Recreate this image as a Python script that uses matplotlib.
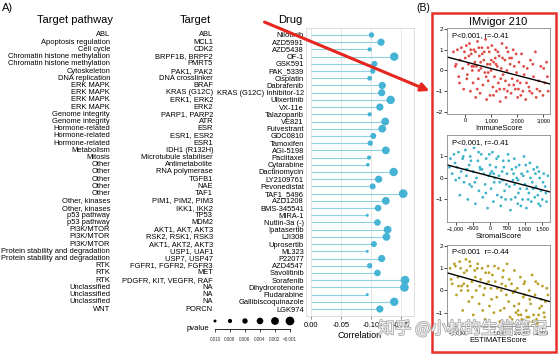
import numpy as np
import matplotlib
matplotlib.use("Agg")
import matplotlib.pyplot as plt
import matplotlib.patches as patches
import matplotlib.transforms as mtransforms
import matplotlib.patheffects as pe
from matplotlib.ticker import FuncFormatter

plt.rcParams['font.family'] = ['Liberation Sans', 'DejaVu Sans', 'Noto Sans CJK SC']

# ---- panel A data ----
pathways = ["ABL", "Apoptosis regulation", "Cell cycle", "Chromatin histone methylation",
            "Chromatin histone methylation", "Cytoskeleton", "DNA replication", "ERK MAPK",
            "ERK MAPK", "ERK MAPK", "ERK MAPK", "Genome integrity", "Genome integrity",
            "Hormone-related", "Hormone-related", "Hormone-related", "Metabolism", "Mitosis",
            "Other", "Other", "Other", "Other", "Other", "Other, kinases", "Other, kinases",
            "p53 pathway", "p53 pathway", "PI3K/MTOR", "PI3K/MTOR", "PI3K/MTOR",
            "Protein stability and degradation", "Protein stability and degradation",
            "RTK", "RTK", "RTK", "Unclassified", "Unclassified", "Unclassified", "WNT"]
targets = ["ABL", "MCL1", "CDK2", "BRPF1B, BRPF2", "PMRT5", "PAK1, PAK2", "DNA crosslinker",
           "BRAF", "KRAS (G12C)", "ERK1, ERK2", "ERK2", "PARP1, PARP2", "ATR", "ESR",
           "ESR1, ESR2", "ESR1", "IDH1 (R132H)", "Microtubule stabiliser", "Antimetabolite",
           "RNA polymerase", "TGFB1", "NAE", "TAF1", "PIM1, PIM2, PIM3", "IKK1, IKK2", "TP53",
           "MDM2", "AKT1, AKT, AKT3", "RSK2, RSK1, RSK3", "AKT1, AKT2, AKT3", "USP1, UAF1",
           "USP7, USP47", "FGFR1, FGFR2, FGFR3", "MET", "PDGFR, KIT, VEGFR, RAF", "NA", "NA",
           "NA", "PORCN"]
drugs = ["Nilotinib", "AZD5991", "AZD5438", "OF-1", "GSK591", "PAK_5339", "Cisplatin",
         "Dabrafenib", "KRAS (G12C) Inhibitor-12", "Ulixertinib", "VX-11e", "Talazoparib",
         "VE821", "Fulvestrant", "GDC0810", "Tamoxifen", "AGI-5198", "Paclitaxel", "Cytarabine",
         "Dactinomycin", "LY2109761", "Pevonedistat", "TAF1_5496", "AZD1208", "BMS-345541",
         "MIRA-1", "Nutlin-3a (-)", "Ipatasertib", "LJI308", "Uprosertib", "ML323", "P22077",
         "AZD4547", "Savolitinib", "Sorafenib", "Dihydrorotenone", "Fludarabine",
         "Gallibiscoquinazole", "LGK974"]
correlation = [-0.101, -0.117, -0.098, -0.139, -0.106, -0.103, -0.098, -0.119, -0.118, -0.133,
               -0.115, -0.098, -0.124, -0.119, -0.104, -0.099, -0.125, -0.097, -0.095, -0.138,
               -0.113, -0.103, -0.154, -0.125, -0.112, -0.094, -0.111, -0.128, -0.126, -0.105,
               -0.094, -0.118, -0.098, -0.111, -0.157, -0.156, -0.094, -0.139, -0.115]
pvalue = [0.006, 0.003, 0.008, 0.001, 0.005, 0.006, 0.007, 0.003, 0.003, 0.001,
          0.003, 0.008, 0.002, 0.002, 0.005, 0.006, 0.002, 0.008, 0.009, 0.001,
          0.003, 0.005, 0.0005, 0.002, 0.004, 0.010, 0.004, 0.002, 0.002, 0.005,
          0.010, 0.003, 0.006, 0.004, 0.0005, 0.0005, 0.010, 0.001, 0.003]
legend_p = [0.010, 0.008, 0.006, 0.004, 0.002, 0.0005]
legend_labels = ["0.010", "0.008", "0.006", "0.004", "0.002", "<0.001"]
corr_ticks = [0.00, -0.05, -0.10, -0.15]

# ---- panel B data ----
immune_x = [-450, -380, -300, -250, -200, -150, -100, -60, 0, 40, 80, 120, 160, 200, 230, 270,
            300, 330, 370, 400, 430, 470, 500, 540, 570, 600, 640, 680, 710, 750, 780, 820, 850,
            880, 920, 950, 990, 1020, 1060, 1090, 1120, 1160, 1200, 1230, 1270, 1300, 1340, 1380,
            1410, 1450, 1490, 1520, 1560, 1600, 1640, 1680, 1720, 1760, 1800, 1840, 1880, 1920,
            1970, 2010, 2060, 2110, 2160, 2210, 2260, 2320, 2380, 2440, 2500, 2560, 2620, 2690,
            2750, 2820, 2900, 2980, 3050, 3120, 3180, 650, 1150, 1700, 950, 250,
            -350, -220, -30, 60, 140, 210, 320, 390, 460, 520, 590, 730, 800, 870, 1000, 1080,
            1180, 1250, 1320, 1430, 1540, 1620, 1780, 1860, 1950, 2040, 2130, 2240, 2350, 2470,
            2590, 2720, 2860, 3010, 3150, 520, 880, 1360, 1580, 2000]
immune_y = [0.9, 0.2, 1.0, -0.3, 0.5, 1.1, 0.1, -0.9, 0.6, 1.2, -0.2, 0.3, 1.3, -1.0, 0.8, 0.0,
            -0.6, 1.0, 0.4, -1.3, 0.2, 1.4, -0.4, 0.7, -1.1, 0.1, 1.1, -0.7, 0.5, -0.1, 1.5, -1.4,
            0.3, -0.5, 0.9, -1.2, 0.0, 1.2, -0.8, 0.4, -0.3, 1.0, -1.0, 0.2, -0.6, 0.7, -1.5, 0.1,
            1.3, -0.2, -0.9, 0.5, -1.3, 0.0, 0.9, -0.7, 0.3, -1.1, -0.4, 1.0, 0.2, -0.9,
            -0.1, -1.3, 0.4, -0.6, 0.8, -1.0, -0.2, -1.4, 0.1, -0.8, 0.5, -1.1, -0.3, 0.9,
            -0.9, -0.5, 0.2, -1.2, -0.6, 0.4, -1.0, 0.8, 0.6, 0.6, 0.3, 0.2,
            0.3, -0.6, 0.9, -0.4, 0.7, 1.0, 0.2, 0.9, -0.9, 1.1, 0.4, 0.9, -0.3, 1.1, 0.5, -1.2,
            0.3, 0.9, -0.9, 0.6, -0.5, -1.0, 0.6, -0.7, 0.8, -0.9, -1.2, 0.2, -0.6, -1.0,
            0.3, -1.3, -1.0, 0.1, -0.3, 0.0, -0.1, -0.4, 1.1, -0.5]
stromal_x = [-1150, -1100, -1050, -1000, -960, -920, -880, -840, -800, -760, -720, -690, -650,
             -610, -580, -540, -500, -470, -430, -400, -360, -330, -290, -260, -220, -190, -150,
             -120, -80, -50, -10, 20, 60, 90, 130, 160, 200, 230, 270, 300, 340, 370, 410, 440,
             480, 510, 550, 580, 620, 650, 690, 720, 760, 790, 830, 860, 900, 930, 970, 1000,
             1040, 1070, 1110, 1140, 1180, 1210, 1250, 1280, 1320, 1350, 1390, 1420, 1460, 1500,
             1540, 1580, 1620, 1660, -700, 100, 800, -300,
             -1180, -1020, -900, -780, -670, -560, -450, -340, -240, -130, -30, 40, 110, 180,
             250, 320, 390, 460, 530, 600, 670, 740, 810, 880, 950, 1020, 1090, 1160, 1230,
             1300, 1370, 1440, 1520, 1600, -600, 0, 350, 700, 1050, 1400]
stromal_y = [0.9, 0.2, 1.1, -0.1, 0.5, 1.2, -0.8, 0.3, 0.9, -0.2, 1.3, 0.1, -1.0, 0.6, 1.0,
             -0.4, 0.3, 1.4, -1.2, 0.0, 0.8, -0.6, 0.4, 1.1, -0.9, 0.2, -0.3, 0.9, -1.4, 0.1,
             0.6, -0.5, 1.2, -1.1, 0.0, 0.5, -0.8, 1.0, -0.2, -1.3, 0.3, 0.8, -0.6, -1.0, 0.2,
             1.1, -0.4, -1.5, 0.4, -0.1, 0.9, -0.9, 0.0, -1.2, 0.6, -0.5, 0.2, -1.0, 1.0, -0.3,
             -1.4, 0.3, -0.7, 0.7, -1.1, -0.2, 0.4, -0.9, -0.4, 0.5, -1.2, 0.0, -0.6, -1.0,
             0.2, -0.4, -1.1, 0.1, 0.4, 0.2, -0.1, 0.5,
             0.5, 0.7, 0.0, 1.0, 0.4, 0.8, -0.2, 1.2, 0.4, -0.7, 1.1, 0.3, -0.2, 0.9,
             0.1, -0.9, 0.5, -0.3, 0.8, -1.0, 0.2, 0.5, -0.7, -1.3, 0.1, 0.6, -1.0, 0.0, -0.5,
             0.2, -0.8, -1.3, -0.2, -0.7, -0.3, 0.2, -0.1, -0.3, -0.5, 0.3]
estimate_x = [-1350, -1250, -1150, -1050, -980, -900, -820, -750, -680, -600, -530, -460, -390,
              -320, -250, -180, -110, -40, 30, 100, 170, 240, 310, 380, 450, 520, 590, 660, 730,
              800, 870, 940, 1010, 1080, 1150, 1220, 1290, 1360, 1430, 1500, 1570, 1640, 1710,
              1780, 1850, 1920, 1990, 2060, 2130, 2200, 2270, 2340, 2410, 2480, 2550, 2620, 2690,
              2760, 2830, 2900, 2970, 3040, 3110, 3180, 3250, -800, 500, 1900, 2400, 2600,
              -1300, -1100, -950, -850, -700, -560, -420, -300, -150, -60, 60, 200, 340, 480,
              620, 760, 900, 1040, 1180, 1320, 1460, 1600, 1740, 1880, 2020, 2160, 2300, 2440,
              2580, 2720, 2860, 3000, 3140, 3300, -500, 300, 1100, 1700, 2200, 2800]
estimate_y = [1.0, 0.3, 1.2, -0.2, 0.6, 1.3, 0.0, -0.9, 0.8, 1.4, 0.2, -0.5, 1.1, 0.4, -1.1,
              0.9, 0.0, 1.2, -0.6, 0.5, 1.0, -0.2, -1.3, 0.3, 1.1, -0.7, 0.1, 0.7, -1.0, 0.4,
              -0.3, 1.0, -1.4, 0.0, 0.6, -0.8, 0.2, 1.2, -0.5, -1.2, 0.3, -0.1, 0.9, -1.0, 0.1,
              -0.6, 0.6, -1.3, -0.3, 0.4, -0.9, -1.5, 0.0, -0.6, 0.7, -1.1, -0.2, -1.3, 0.3,
              -0.8, -0.4, 0.2, -1.0, -0.5, 0.1, 0.2, 0.8, -1.1, -1.2, -1.4,
              0.5, 1.1, 0.2, 1.0, 0.3, 0.9, 1.3, -0.3, 0.6, 1.0, 0.2, -0.9, 0.8, 0.4,
              -0.4, 1.1, 0.1, -0.9, 0.9, -0.2, 0.5, -1.3, 0.0, -0.9, -1.1, 0.3, -1.2, -0.4,
              -1.4, 0.4, -1.1, -0.7, -1.2, -0.2, 0.0, 0.1, 0.3, -0.7, -0.2, -1.5]
# fitted line: (intercept, slope)
immune_fit = (0.42, -0.000329)
stromal_fit = (0.08, -0.000424)
estimate_fit = (0.40, -0.000265)


def fx(px):
    return px / 560


def fy(py):
    return 1 - py / 355


def dot_size(p):
    d_px = 3 + (0.010 - p) * 600
    return (d_px * 0.72) ** 2


fig = plt.figure(figsize=(5.6, 3.55), dpi=100)

# ---- lollipop panel ----
ax = fig.add_axes([fx(306), fy(316), fx(414) - fx(306), fy(28) - fy(316)])
rows = np.arange(len(drugs))
ax.hlines(rows, 0, correlation, color='#8fd0e0', lw=0.8, zorder=2)
ax.scatter(correlation, rows, s=[dot_size(p) for p in pvalue], color='#45b3d4',
           edgecolor='none', zorder=3)
ax.set_xlim(0.0083, -0.172)
ax.set_ylim(len(drugs) - 0.03, -0.97)
ax.set_yticks(rows)
ax.set_yticklabels(drugs, fontsize=5.4)
ax.set_xticks(corr_ticks)
ax.set_xticklabels(["0.00", "-0.05", "-0.10", "-0.15"], fontsize=5.5)
ax.tick_params(axis='y', length=0, pad=1.5)
ax.tick_params(axis='x', length=2, width=0.5, pad=2, color='#555555')
ax.grid(axis='x', color='#e3e3e3', lw=0.6)
ax.set_axisbelow(True)
for s in ax.spines.values():
    s.set_color('#d8d8d8')
    s.set_linewidth(0.6)
ax.set_xlabel("Correlation", fontsize=6.5, labelpad=2)

# text columns tied to the row scale
row_tr = mtransforms.blended_transform_factory(fig.transFigure, ax.transData)
for i in rows:
    fig.text(fx(110), i, pathways[i], transform=row_tr, ha='right', va='center', fontsize=5.4)
    fig.text(fx(213), i, targets[i], transform=row_tr, ha='right', va='center', fontsize=5.4)

fig.text(fx(75), fy(20), "Target pathway", ha='center', va='center', fontsize=8)
fig.text(fx(195), fy(20), "Target", ha='center', va='center', fontsize=8)
fig.text(fx(290), fy(20), "Drug", ha='center', va='center', fontsize=8)
fig.text(fx(2), fy(8), "A)", ha='left', va='center', fontsize=8)

# ---- pvalue size legend ----
lax = fig.add_axes([fx(200), fy(342), fx(305) - fx(200), fy(314) - fy(342)])
lx = np.arange(len(legend_p))
lax.scatter(lx, [0.75] * len(lx), s=[dot_size(p) for p in legend_p], color='black',
            edgecolor='none')
lax.plot([lx[0], lx[-1]], [0.45, 0.45], color='black', lw=0.6)
lax.vlines(lx, 0.35, 0.45, color='black', lw=0.5)
for xi, lab in zip(lx, legend_labels):
    lax.text(xi, 0.1, lab, ha='center', va='center', fontsize=3.3, color='#333333')
lax.set_xlim(-1, 6)
lax.set_ylim(0, 1)
lax.axis('off')
fig.text(fx(198), fy(329), "pvalue", ha='center', va='center', fontsize=5.5)

# ---- panel B ----
fig.text(fx(416), fy(8), "(B)", ha='left', va='center', fontsize=7.5)
fig.add_artist(patches.Rectangle((fx(432), fy(352)), fx(556) - fx(432), fy(13) - fy(352),
                                 transform=fig.transFigure, fill=False,
                                 edgecolor='#e5312a', lw=1.8))

comma = FuncFormatter(lambda v, pos: f"{v:,.0f}".replace("-", "\u2212"))
panels = [
    (immune_x, immune_y, immune_fit, '#e04a45', "ImmuneScore", "P<0.001, r=-0.41",
     (28, 114), (-700, 3250), (-2.1, 2.05), [0, 1000, 2000, 3000], [-2, -1, 0, 1, 2]),
    (stromal_x, stromal_y, stromal_fit, '#3fb4c8', "StromalScore", "P<0.001, r=-0.41",
     (135, 222), (-1250, 1720), (-2.05, 2.0), [-1000, -500, 0, 500, 1000, 1500], [-1, 0, 1]),
    (estimate_x, estimate_y, estimate_fit, '#b9a027', "ESTIMATEScore", "P<0.001  r=-0.44",
     (245, 326), (-1500, 3400), (-1.6, 2.05), [-1000, 0, 1000, 2000, 3000], [-1, 0, 1, 2]),
]
for xs, ys, fit, col, xlab, note, (top, bot), xl, yl, xt, yt in panels:
    sax = fig.add_axes([fx(447), fy(bot), fx(550) - fx(447), fy(top) - fy(bot)])
    sax.scatter(xs, ys, s=4, color=col, edgecolor='none')
    lx_ = np.array(xl)
    sax.plot(lx_, fit[0] + fit[1] * lx_, color='black', lw=1)
    sax.set_xlim(xl)
    sax.set_ylim(yl)
    sax.set_xticks(xt)
    sax.set_yticks(yt)
    sax.xaxis.set_major_formatter(comma)
    sax.tick_params(axis='y', labelsize=4.5, length=2, width=0.5, pad=1)
    sax.tick_params(axis='x', labelsize=4.0, length=2, width=0.5, pad=1)
    for s in sax.spines.values():
        s.set_color('#888888')
        s.set_linewidth(0.6)
    sax.set_xlabel(xlab, fontsize=5.5, labelpad=1)
    sax.text(0.05, 0.95, note, transform=sax.transAxes, ha='left', va='top', fontsize=5.5)
    if xlab == "ImmuneScore":
        sax.set_title("IMvigor 210", fontsize=8, pad=2)

# red arrow linking the two panels
fig.add_artist(patches.FancyArrowPatch((fx(262), fy(21)), (fx(432), fy(92)),
                                       transform=fig.transFigure, arrowstyle='-|>',
                                       mutation_scale=12, color='#e5261f', lw=2.2))

# watermark
fig.text(fx(378), fy(329), "知乎 @小林的生信笔记", ha='left', va='center', fontsize=12,
         color='white', alpha=0.85,
         family=['Noto Sans CJK SC', 'DejaVu Sans'],
         path_effects=[pe.withStroke(linewidth=1.2, foreground='#9a9a9a')])

fig.savefig("out.png", dpi=100)
